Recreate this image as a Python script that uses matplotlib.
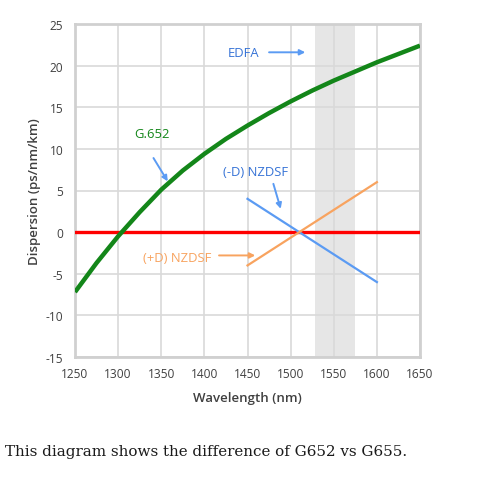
import matplotlib.pyplot as plt
import numpy as np

# G.652 standard single-mode fibre
wavelength_g652 = [1250, 1275, 1300, 1325, 1350, 1375, 1400, 1425, 1450,
                   1475, 1500, 1525, 1550, 1575, 1600, 1625, 1650]
disp_g652 = [-7.2, -3.7, -0.5, 2.4, 5.1, 7.4, 9.4, 11.2, 12.8,
             14.3, 15.7, 17.0, 18.2, 19.3, 20.4, 21.4, 22.4]

# G.655 non-zero dispersion shifted fibres (straight lines)
wavelength_nzdsf = [1450, 1600]
disp_neg_nzdsf = [4.0, -6.0]
disp_pos_nzdsf = [-4.0, 6.0]

# EDFA band
edfa_band = [1528, 1575]

x_ticks = [1250, 1300, 1350, 1400, 1450, 1500, 1550, 1600, 1650]
y_ticks = [-15, -10, -5, 0, 5, 10, 15, 20, 25]

caption = "This diagram shows the difference of G652 vs G655."

plt.rcParams['font.family'] = ['Open Sans', 'DejaVu Sans']
plt.rcParams['axes.unicode_minus'] = False

GREEN = '#138619'
RED = '#ff0000'
BLUE_LINE = '#5b9bf3'
BLUE_TEXT = '#3673d6'
ORANGE = '#f8a35f'
GRID = '#d9d9d9'
TEXT = '#404040'

fig = plt.figure(figsize=(4.92, 4.89), dpi=100)
ax = fig.add_axes([75 / 492, 1 - 358 / 489, 345 / 492, 333 / 489])

ax.axvspan(edfa_band[0], edfa_band[1], color='#e6e6e6', zorder=0, lw=0)

ax.set_xlim(1250, 1650)
ax.set_ylim(-15, 25)
ax.set_xticks(x_ticks)
ax.set_yticks(y_ticks)
ax.grid(True, color=GRID, linewidth=1.2, zorder=0.5)
ax.set_axisbelow(True)
for s in ax.spines.values():
    s.set_color('#d0d0d0')
    s.set_linewidth(2)
ax.tick_params(length=0, labelsize=8.6, labelcolor=TEXT)
ax.tick_params(axis='y', pad=8.5)
ax.tick_params(axis='x', pad=7)

ax.axhline(0, color=RED, linewidth=2.4, zorder=3)
ax.plot(wavelength_g652, disp_g652, color=GREEN, linewidth=3.2, zorder=4,
        solid_capstyle='butt')
ax.plot(wavelength_nzdsf, disp_neg_nzdsf, color=BLUE_LINE, linewidth=1.6, zorder=4)
ax.plot(wavelength_nzdsf, disp_pos_nzdsf, color=ORANGE, linewidth=1.6, zorder=4)

ax.set_xlabel('Wavelength (nm)', fontsize=9.5, color=TEXT, fontweight='semibold',
              labelpad=8)
ax.set_ylabel('Dispersion (ps/nm/km)', fontsize=9.5, color=TEXT,
              fontweight='semibold', labelpad=3)

arrow = dict(arrowstyle='-|>', lw=1.4, mutation_scale=8, shrinkA=0, shrinkB=0)

ax.text(1445, 21.6, 'EDFA', color=BLUE_TEXT, fontsize=9.4, ha='center', va='center')
ax.annotate('', xy=(1517, 21.6), xytext=(1475, 21.6),
            arrowprops=dict(arrow, color=BLUE_LINE))

ax.text(1339, 11.8, 'G.652', color=GREEN, fontsize=9.4, ha='center', va='center')
ax.annotate('', xy=(1357.5, 6.1), xytext=(1341, 8.9),
            arrowprops=dict(arrow, color=BLUE_LINE))

ax.text(1459, 7.3, '(-D) NZDSF', color=BLUE_TEXT, fontsize=9.4, ha='center', va='center')
ax.annotate('', xy=(1488.5, 2.8), xytext=(1480, 5.8),
            arrowprops=dict(arrow, color=BLUE_LINE))

ax.text(1368.5, -3.0, '(+D) NZDSF', color=ORANGE, fontsize=9.4, ha='center', va='center')
ax.annotate('', xy=(1459, -2.8), xytext=(1417, -2.8),
            arrowprops=dict(arrow, color=ORANGE))

fig.text(5 / 492, 1 - 452 / 489, caption, family='DejaVu Serif', fontsize=10.9,
         color='#1a1a1a', va='center', ha='left')

fig.savefig('out.png', dpi=100)
